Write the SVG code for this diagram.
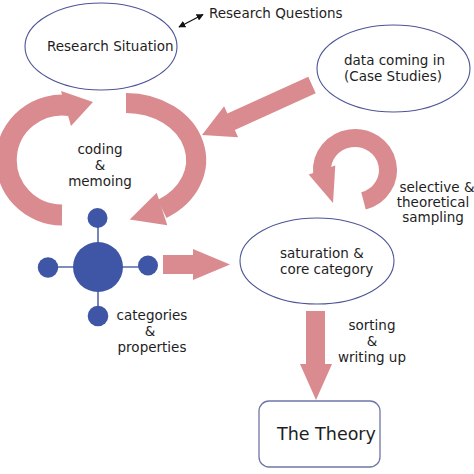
<svg xmlns="http://www.w3.org/2000/svg" width="474" height="474" viewBox="0 0 474 474">
<style>
  .node{fill:#fff;stroke:#4d5596;stroke-width:1.1}
  .box{fill:#fff;stroke:#6e76a8;stroke-width:1.3}
  .t{font-family:"DejaVu Sans",Verdana,sans-serif;font-size:13.5px;fill:#1e1e1e}
  .c{text-anchor:middle}
  .band{fill:none;stroke:#d98b90;stroke-linecap:butt}
  .pink{fill:#d98b90}
  .dot{fill:#3f55a5}
  .arm{stroke:#5468aa;stroke-width:1.6}
</style>
<defs>
  <marker id="ah" viewBox="0 0 10 10" refX="9" refY="5" markerWidth="7" markerHeight="7" markerUnits="userSpaceOnUse" orient="auto-start-reverse">
    <path d="M0,0 L10,5 L0,10 Z" fill="#111"/>
  </marker>
</defs>
<rect width="474" height="474" fill="#fff"/>

<g id="connectors">
  <!-- coding loop: left arc -->
  <path class="band" stroke-width="21" d="M62 215 A56 55 0 1 1 69.8 105.5"/>
  <polygon class="pink" points="61,91 93,102 71,126"/>
  <!-- coding loop: right arc -->
  <path class="band" stroke-width="20" d="M126 103 A70 57 0 0 1 162.1 208.9"/>
  <polygon class="pink" points="156.7,192.8 129.7,219.5 167.3,225.2"/>
  <!-- data coming in arrow -->
  <polygon class="pink" points="308.3,76.8 315.7,93.2 234.8,130 238.1,137.3 202,135 224.1,106.3 227.4,113.6"/>
  <!-- selective sampling loop -->
  <path class="band" stroke-width="18" d="M363.5 200.9 A33 32 0 1 0 322.1 172.8"/>
  <polygon class="pink" points="308.7,174.4 333,203 335.3,165.6"/>
  <!-- hub to saturation -->
  <polygon class="pink" points="163,255 193,255 193,249 230,264.5 193,280 193,274 163,274"/>
  <!-- saturation to theory -->
  <polygon class="pink" points="306,311 325,311 325,364 332,364 316,400 300,364 306,364"/>
  <!-- research questions double arrow -->
  <line x1="179" y1="27" x2="203" y2="14.5" stroke="#111" stroke-width="1.3" marker-start="url(#ah)" marker-end="url(#ah)"/>
</g>

<g id="research-situation">
  <ellipse class="node" cx="101" cy="46.5" rx="76" ry="43.5"/>
  <text class="t" x="47" y="50.5">Research Situation</text>
</g>

<g id="research-questions">
  <text class="t" x="209" y="17.5">Research Questions</text>
</g>

<g id="data-coming-in">
  <ellipse class="node" cx="393.5" cy="68.5" rx="76.5" ry="43.5"/>
  <text class="t" x="344" y="65">data coming in</text>
  <text class="t" x="344" y="81">(Case Studies)</text>
</g>

<g id="coding-memoing">
  <text class="t c" x="100" y="154">coding</text>
  <text class="t c" x="100" y="170">&amp;</text>
  <text class="t c" x="100" y="186">memoing</text>
</g>

<g id="categories">
  <line class="arm" x1="98" y1="218" x2="98" y2="316"/>
  <line class="arm" x1="48" y1="267" x2="148" y2="267"/>
  <circle class="dot" cx="98" cy="267" r="25"/>
  <circle class="dot" cx="97.5" cy="218" r="10"/>
  <circle class="dot" cx="48" cy="267.5" r="10.2"/>
  <circle class="dot" cx="148" cy="265.5" r="10"/>
  <circle class="dot" cx="98" cy="316" r="10.3"/>
  <text class="t c" x="152" y="320">categories</text>
  <text class="t c" x="150" y="336">&amp;</text>
  <text class="t c" x="152" y="352">properties</text>
</g>

<g id="selective-sampling">
  <text class="t c" x="437" y="192">selective &amp;</text>
  <text class="t c" x="433" y="207">theoretical</text>
  <text class="t c" x="433" y="222">sampling</text>
</g>

<g id="saturation">
  <ellipse class="node" cx="317" cy="261" rx="77" ry="43"/>
  <text class="t" x="280" y="258">saturation &amp;</text>
  <text class="t" x="280" y="274">core category</text>
</g>

<g id="sorting">
  <text class="t c" x="372" y="330">sorting</text>
  <text class="t c" x="372" y="346">&amp;</text>
  <text class="t c" x="372" y="362">writing up</text>
</g>

<g id="the-theory">
  <rect class="box" x="259" y="401" width="121" height="66" rx="10"/>
  <text class="t" x="277" y="440" style="font-size:17.5px">The Theory</text>
</g>
</svg>
